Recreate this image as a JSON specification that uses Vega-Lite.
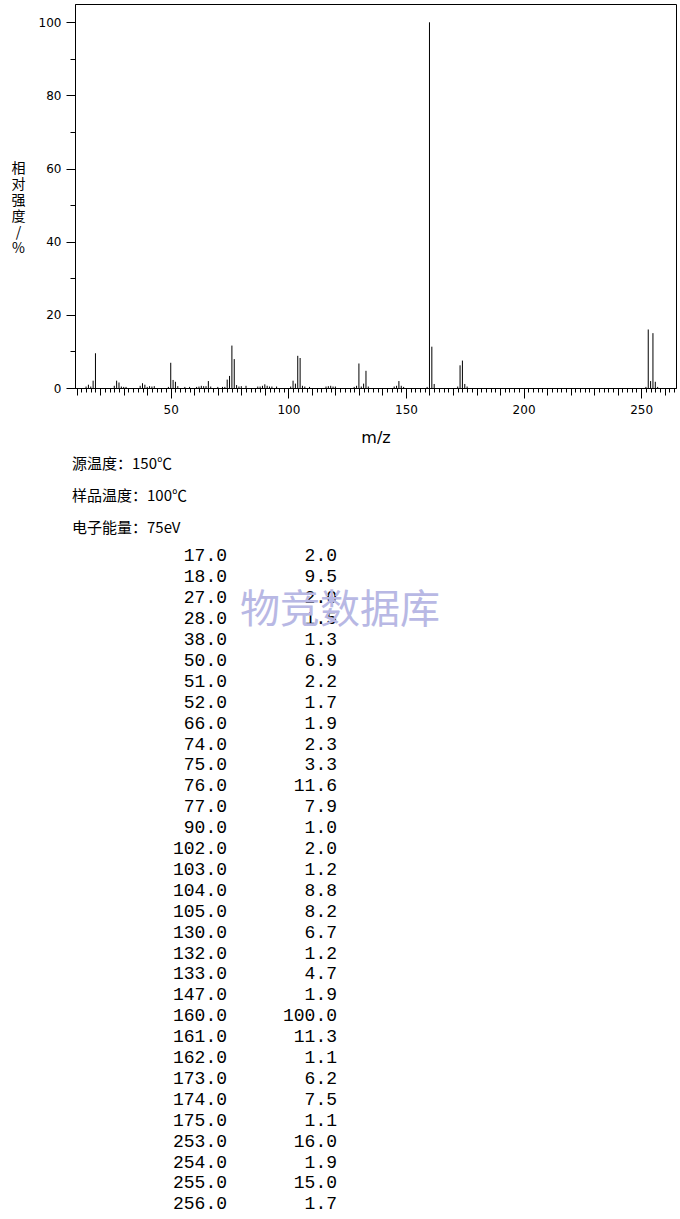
{
  "$schema": "https://vega.github.io/schema/vega-lite/v6.json",
  "autosize": {"type": "none"},
  "padding": {"left": 75, "top": 4, "right": 605, "bottom": 1215},
  "background": "white",
  "bounds": "flush",
  "spacing": 0,
  "datasets": {
    "peaks": [
      {"mz": 14, "intensity": 0.4}, {"mz": 15, "intensity": 0.9}, {"mz": 16, "intensity": 0.4},
      {"mz": 17, "intensity": 2.0}, {"mz": 18, "intensity": 9.5}, {"mz": 26, "intensity": 0.6},
      {"mz": 27, "intensity": 2.0}, {"mz": 28, "intensity": 1.5}, {"mz": 29, "intensity": 0.4},
      {"mz": 30, "intensity": 0.3}, {"mz": 31, "intensity": 0.3}, {"mz": 37, "intensity": 0.6},
      {"mz": 38, "intensity": 1.3}, {"mz": 39, "intensity": 0.9}, {"mz": 40, "intensity": 0.3},
      {"mz": 41, "intensity": 0.5}, {"mz": 42, "intensity": 0.4}, {"mz": 43, "intensity": 0.5},
      {"mz": 49, "intensity": 0.3}, {"mz": 50, "intensity": 6.9}, {"mz": 51, "intensity": 2.2},
      {"mz": 52, "intensity": 1.7}, {"mz": 53, "intensity": 0.5}, {"mz": 56, "intensity": 0.3},
      {"mz": 58, "intensity": 0.3}, {"mz": 61, "intensity": 0.3}, {"mz": 62, "intensity": 0.4},
      {"mz": 63, "intensity": 0.6}, {"mz": 64, "intensity": 0.5}, {"mz": 65, "intensity": 0.5},
      {"mz": 66, "intensity": 1.9}, {"mz": 67, "intensity": 0.4}, {"mz": 70, "intensity": 0.3},
      {"mz": 72, "intensity": 0.3}, {"mz": 73, "intensity": 0.3}, {"mz": 74, "intensity": 2.3},
      {"mz": 75, "intensity": 3.3}, {"mz": 76, "intensity": 11.6}, {"mz": 77, "intensity": 7.9},
      {"mz": 78, "intensity": 0.8}, {"mz": 79, "intensity": 0.4}, {"mz": 80, "intensity": 0.5},
      {"mz": 82, "intensity": 0.6}, {"mz": 87, "intensity": 0.4}, {"mz": 88, "intensity": 0.4},
      {"mz": 89, "intensity": 0.6}, {"mz": 90, "intensity": 1.0}, {"mz": 91, "intensity": 0.6},
      {"mz": 92, "intensity": 0.4}, {"mz": 93, "intensity": 0.4}, {"mz": 95, "intensity": 0.4},
      {"mz": 101, "intensity": 0.4}, {"mz": 102, "intensity": 2.0}, {"mz": 103, "intensity": 1.2},
      {"mz": 104, "intensity": 8.8}, {"mz": 105, "intensity": 8.2}, {"mz": 106, "intensity": 0.6},
      {"mz": 107, "intensity": 0.4}, {"mz": 109, "intensity": 0.3}, {"mz": 116, "intensity": 0.4},
      {"mz": 117, "intensity": 0.5}, {"mz": 118, "intensity": 0.6}, {"mz": 119, "intensity": 0.4},
      {"mz": 120, "intensity": 0.4}, {"mz": 128, "intensity": 0.3}, {"mz": 129, "intensity": 0.6},
      {"mz": 130, "intensity": 6.7}, {"mz": 131, "intensity": 0.4}, {"mz": 132, "intensity": 1.2},
      {"mz": 133, "intensity": 4.7}, {"mz": 134, "intensity": 0.4}, {"mz": 145, "intensity": 0.4},
      {"mz": 146, "intensity": 0.6}, {"mz": 147, "intensity": 1.9}, {"mz": 148, "intensity": 0.6},
      {"mz": 149, "intensity": 0.3}, {"mz": 159, "intensity": 0.3}, {"mz": 160, "intensity": 100.0},
      {"mz": 161, "intensity": 11.3}, {"mz": 162, "intensity": 1.1}, {"mz": 172, "intensity": 0.4},
      {"mz": 173, "intensity": 6.2}, {"mz": 174, "intensity": 7.5}, {"mz": 175, "intensity": 1.1},
      {"mz": 176, "intensity": 0.4}, {"mz": 252, "intensity": 0.3}, {"mz": 253, "intensity": 16.0},
      {"mz": 254, "intensity": 1.9}, {"mz": 255, "intensity": 15.0}, {"mz": 256, "intensity": 1.7},
      {"mz": 257, "intensity": 0.3}
    ]
  },
  "config": {
    "font": "DejaVu Sans",
    "view": {"stroke": null},
    "axis": {
      "grid": false,
      "domainColor": "black",
      "tickColor": "black",
      "labelColor": "black",
      "titleColor": "black",
      "labelFont": "DejaVu Sans",
      "labelFontSize": 12,
      "titleFontWeight": "normal"
    }
  },
  "vconcat": [
    {
      "width": 601,
      "height": 384,
      "view": {"stroke": "black", "strokeWidth": 1},
      "data": {"name": "peaks"},
      "mark": {"type": "rule", "color": "black", "strokeWidth": 1},
      "encoding": {
        "x": {
          "field": "mz",
          "type": "quantitative",
          "scale": {"domain": [9.3, 264.8], "nice": false, "zero": false},
          "axis": {
            "title": "m/z",
            "titleFont": "DejaVu Sans",
            "titleFontSize": 16,
            "titlePadding": 14,
            "tickCount": 128,
            "labelOverlap": false,
            "labelFlush": false,
            "labelPadding": 6,
            "labelExpr": "datum.value % 50 === 0 ? datum.label : ''",
            "tickSize": {
              "condition": [
                {"test": "datum.value % 50 === 0", "value": 10},
                {"test": "datum.value % 10 === 0", "value": 7}
              ],
              "value": 4
            }
          }
        },
        "y": {
          "field": "intensity",
          "type": "quantitative",
          "scale": {"domain": [0, 105], "nice": false},
          "axis": {
            "values": [0, 10, 20, 30, 40, 50, 60, 70, 80, 90, 100],
            "labelExpr": "datum.value % 20 === 0 ? datum.label : ''",
            "labelPadding": 5,
            "tickSize": {
              "condition": {"test": "datum.value % 20 === 0", "value": 9},
              "value": 5
            },
            "title": ["相", "对", "强", "度", "/", "%"],
            "titleAngle": 0,
            "titleFont": "Noto Sans CJK SC",
            "titleFontSize": 14,
            "titleLineHeight": 16,
            "titleAlign": "center",
            "titleBaseline": "middle",
            "titleX": -57,
            "titleY": 164
          }
        },
        "y2": {"datum": 0}
      }
    },
    {
      "width": 601,
      "height": 157.55,
      "data": {
        "values": [
          {"line": "源温度：150℃"},
          {"line": "样品温度：100℃"},
          {"line": "电子能量：75eV"}
        ]
      },
      "mark": {"type": "text", "align": "left", "baseline": "middle", "font": "Noto Sans CJK SC", "fontSize": 15, "color": "black", "dx": -3},
      "encoding": {
        "y": {
          "field": "line",
          "type": "nominal",
          "sort": null,
          "axis": null,
          "scale": {"type": "band", "paddingInner": 0, "paddingOuter": 0.9617, "align": 0.975}
        },
        "x": {
          "datum": "条件",
          "type": "nominal",
          "axis": null,
          "scale": {"type": "point", "padding": 0, "align": 0}
        },
        "text": {"field": "line"}
      }
    },
    {
      "width": 330,
      "height": 668.8,
      "layer": [
        {
          "data": {"name": "peaks"},
          "transform": [{"filter": "datum.intensity >= 1"}],
          "mark": {"type": "text", "align": "right", "baseline": "middle", "font": "Liberation Mono", "fontSize": 18, "color": "black"},
          "encoding": {
            "y": {
              "field": "mz",
              "type": "ordinal",
              "sort": "ascending",
              "axis": null,
              "scale": {"type": "band", "paddingInner": 0, "paddingOuter": 0}
            },
            "x": {
              "datum": "m/z",
              "type": "nominal",
              "axis": null,
              "scale": {"type": "point", "domain": ["m/z", "强度"], "padding": 1, "align": 0.691}
            },
            "text": {"field": "mz", "format": ".1f"}
          }
        },
        {
          "data": {"name": "peaks"},
          "transform": [{"filter": "datum.intensity >= 1"}],
          "mark": {"type": "text", "align": "right", "baseline": "middle", "font": "Liberation Mono", "fontSize": 18, "color": "black"},
          "encoding": {
            "y": {"field": "mz", "type": "ordinal", "sort": "ascending"},
            "x": {"datum": "强度", "type": "nominal"},
            "text": {"field": "intensity", "format": ".1f"}
          }
        },
        {
          "data": {"values": [{"watermark": "物竞数据库"}]},
          "mark": {"type": "text", "align": "center", "baseline": "middle", "font": "Noto Sans CJK SC", "fontSize": 40, "color": "#b8b8e4", "dx": 3, "dy": 2},
          "encoding": {
            "y": {"datum": 27, "type": "ordinal", "bandPosition": 1},
            "x": {"datum": "强度", "type": "nominal"},
            "text": {"field": "watermark"}
          }
        }
      ]
    }
  ]
}
